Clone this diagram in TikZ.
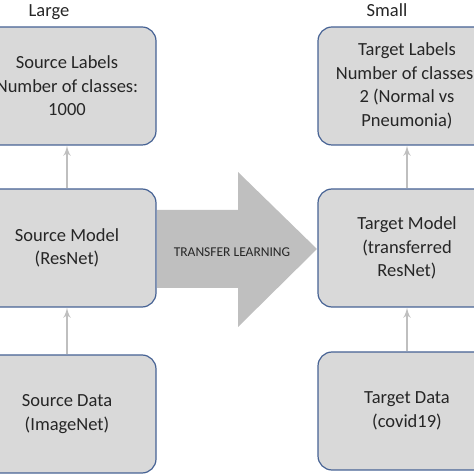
\documentclass[tikz,border=0pt]{standalone}
\usepackage{fontspec}
\setmainfont{Carlito}
\usepackage{tikz}
\usetikzlibrary{arrows}

\definecolor{boxfill}{RGB}{217,217,217}
\definecolor{boxline}{RGB}{70,98,148}
\definecolor{arrowgray}{RGB}{191,191,191}
\definecolor{textgray}{RGB}{38,38,38}

\begin{document}
\begin{tikzpicture}[x=1pt,y=1pt]
 \tikzset{stage/.style = {shape=rectangle,draw=boxline,fill=boxfill,line width=1.2pt,
   rounded corners=14pt,minimum width=178pt,minimum height=118pt,align=center,
   text=textgray,font=\fontsize{18.5}{23.5}\selectfont}}
 \tikzset{edge/.style = {->,> = latex',draw=arrowgray,line width=2.5pt}}
 \tikzset{size/.style = {anchor=base,text=textgray,font=\fontsize{18.5}{22}\selectfont}}
 \clip (0,0) rectangle (474,474);
 % source side
 \node[stage] (srclabels) at (67,388) {Source Labels\\Number of classes:\\1000};
 \node[stage] (srcmodel) at (67,226) {Source Model\\(ResNet)};
 \node[stage] (srcdata) at (67,60) {Source Data\\(ImageNet)};
 % target side
 \node[stage] (tgtlabels) at (407,388) {Target Labels\\Number of classes:\\2 (Normal vs\\Pneumonia)};
 \node[stage] (tgtmodel) at (407,226) {Target Model\\(transferred\\ResNet)};
 \node[stage] (tgtdata) at (407,63) {Target Data\\(covid19)};
 % headings
 \node[size] (large) at (49,457) {Large};
 \node[size] (small) at (387,457) {Small};

 %edges
 \draw[edge] (srcdata) -- (srcmodel);
 \draw[edge] (srcmodel) -- (srclabels);
 \draw[edge] (tgtdata) -- (tgtmodel);
 \draw[edge] (tgtmodel) -- (tgtlabels);

 % transfer arrow
 \fill[arrowgray] (157,264) -- (238,264) -- (238,302) -- (317,225) -- (238,147)
   -- (238,186) -- (157,186) -- cycle;
 \node[text=textgray,font=\fontsize{13.5}{15}\selectfont] (transfer) at (232,222) {TRANSFER LEARNING};
\end{tikzpicture}
\end{document}
